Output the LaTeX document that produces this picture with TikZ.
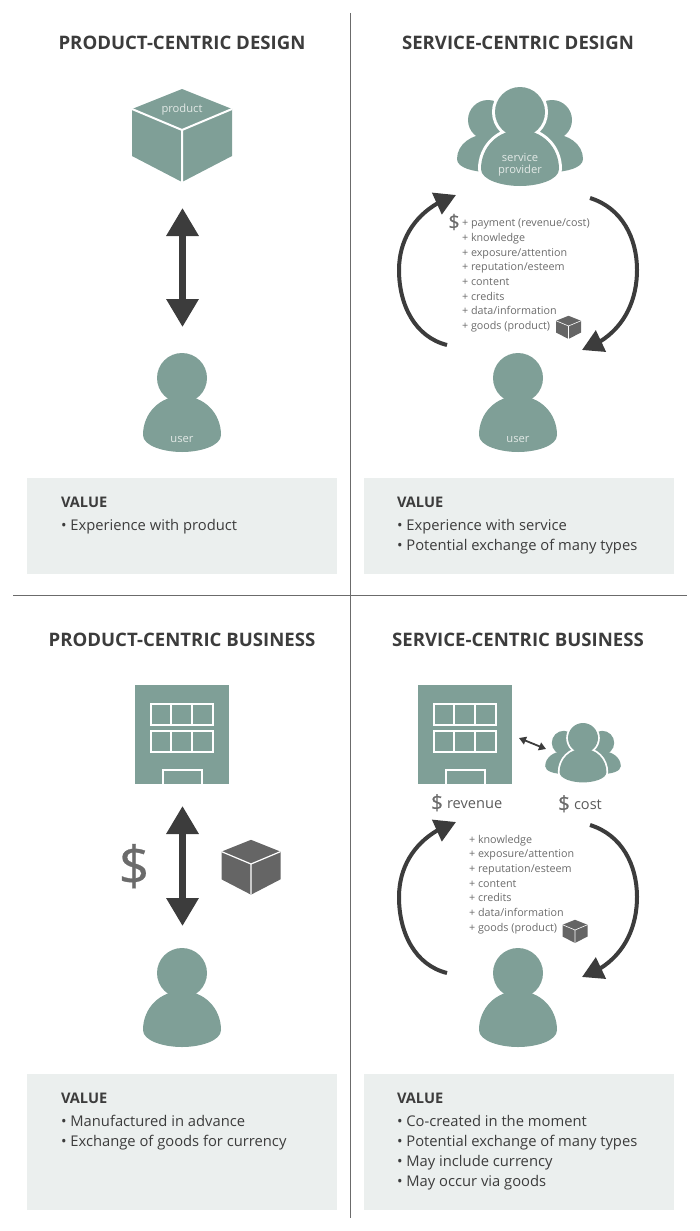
\documentclass[tikz,border=0pt]{standalone}
\usepackage{fontspec}
\setmainfont{Open Sans}
\newfontfamily\semifont[FakeBold=0.5]{Open Sans}
\usetikzlibrary{arrows.meta,bending}
\definecolor{sage}{HTML}{7F9F97}
\definecolor{boxgray}{HTML}{656565}
\definecolor{panel}{HTML}{EBEFEE}
\definecolor{ink}{HTML}{3C3C3C}
\definecolor{soft}{HTML}{6B6B6B}
\definecolor{pale}{HTML}{E2E9E6}
\newcommand{\plusitem}[1]{\makebox[9pt][l]{+}#1}
\tikzset{
  nodes={inner sep=0pt, outer sep=0pt},
  title/.style={anchor=base, text=ink, font=\fontsize{18.6}{22}\selectfont\bfseries},
  valuehead/.style={anchor=base west, text=ink, font=\fontsize{14.6}{18}\selectfont\bfseries},
  valueline/.style={anchor=base west, text=ink, font=\fontsize{14.75}{18}\selectfont},
  listline/.style={anchor=base west, text=soft, font=\fontsize{10.75}{14}\selectfont},
  iconlabel/.style={anchor=base, text=pale, font=\fontsize{11.2}{14}\selectfont},
  money/.style={anchor=base, text=soft, font=\fontsize{#1}{#1}\selectfont\semifont},
  moneytext/.style={anchor=base west, text=soft!85!black, font=\fontsize{14.6}{18}\selectfont},
  bigarrow/.style={draw=ink, line width=6.5pt, {Triangle[length=28pt,width=31pt]}-{Triangle[length=28pt,width=31pt]}},
  looparrow/.style={draw=ink, line width=4pt, -{Triangle[length=21pt,width=23pt,flex=1]}},
  pics/person/.style={code={
    \fill[sage] (0,0) circle (25);
    \fill[sage] (-39,57) .. controls (-39,35) and (-22,18) .. (0,18) .. controls (22,18) and (39,35) .. (39,57)
      .. controls (39,68) and (18,74) .. (0,74) .. controls (-18,74) and (-39,68) .. (-39,57) -- cycle;
  }},
  pics/crowd/.style={code={
    \foreach \side in {-1,1} {
      \fill[sage] (\side*32,8) circle (20);
      \fill[sage] (\side*63,47) .. controls (\side*63,32) and (\side*48,22) .. (\side*32,22)
        .. controls (\side*16,22) and (\side*1,32) .. (\side*1,47)
        .. controls (\side*1,56) and (\side*20,60) .. (\side*32,60) .. controls (\side*46,60) and (\side*63,56) .. (\side*63,47) -- cycle;
    }
    \draw[white] (0,0) circle (25);
    \draw[white] (-39,57) .. controls (-39,35) and (-22,18) .. (0,18) .. controls (22,18) and (39,35) .. (39,57)
      .. controls (39,68) and (18,74) .. (0,74) .. controls (-18,74) and (-39,68) .. (-39,57) -- cycle;
    \fill[sage] (0,0) circle (25);
    \fill[sage] (-39,57) .. controls (-39,35) and (-22,18) .. (0,18) .. controls (22,18) and (39,35) .. (39,57)
      .. controls (39,68) and (18,74) .. (0,74) .. controls (-18,74) and (-39,68) .. (-39,57) -- cycle;
  }},
  pics/cube/.style={code={
    \fill[#1] (0,-41) -- (50,-21) -- (50,26) -- (0,52) -- (-50,26) -- (-50,-21) -- cycle;
    \draw[white] (-50,-21) -- (0,0) -- (50,-21) (0,0) -- (0,52);
  }},
  pics/building/.style={code={
    \fill[sage] (0,0) rectangle (94,99);
    \draw[white, line width=1.8pt] (16,19) rectangle (78,40) (16,46) rectangle (78,67)
      (36,19) -- (36,40) (57,19) -- (57,40) (36,46) -- (36,67) (57,46) -- (57,67)
      (28,99) -- (28,85) -- (67,85) -- (67,99);
  }}
}
\begin{document}
\begin{tikzpicture}[x=1pt, y=-1pt]
\useasboundingbox (0,0) rectangle (700,1231);

\coordinate (midtop) at (350,13);
\coordinate (midbot) at (350,1218);
\coordinate (midleft) at (13,595);
\coordinate (midright) at (687,595);
\draw[soft, line width=.9pt] (midtop) -- (midbot) (midleft) -- (midright);

\node[title] (titleA) at (182,50) {PRODUCT-CENTRIC DESIGN};
\node[title] (titleB) at (518,50) {SERVICE-CENTRIC DESIGN};
\node[title] (titleC) at (182,646) {PRODUCT-CENTRIC BUSINESS};
\node[title] (titleD) at (518,646) {SERVICE-CENTRIC BUSINESS};

\fill[panel] (27,478) rectangle (337,574);
\fill[panel] (364,478) rectangle (674,574);
\fill[panel] (27,1074) rectangle (337,1210);
\fill[panel] (364,1074) rectangle (674,1210);

\node[valuehead] (valueA) at (61,507) {VALUE};
\node[valueline] (lineA) at (61,530) {• Experience with product};
\node[valuehead] (valueB) at (397,507) {VALUE};
\foreach \txt [count=\n] in {Experience with service, Potential exchange of many types}
  \node[valueline] (lineB\n) at (397,{530+20*(\n-1)}) {• \txt};
\node[valuehead] (valueC) at (61,1103) {VALUE};
\foreach \txt [count=\n] in {Manufactured in advance, Exchange of goods for currency}
  \node[valueline] (lineC\n) at (61,{1126+20*(\n-1)}) {• \txt};
\node[valuehead] (valueD) at (397,1103) {VALUE};
\foreach \txt [count=\n] in {Co-created in the moment, Potential exchange of many types, May include currency, May occur via goods}
  \node[valueline] (lineD\n) at (397,{1126+20*(\n-1)}) {• \txt};

% product design
\pic[line width=2pt] at (182,130) {cube=sage};
\node[iconlabel] (productA) at (182,112) {product};
\coordinate (cubeA) at (182.5,208);
\coordinate (userA) at (182.5,327);
\draw[bigarrow] (cubeA) -- (userA);
\pic at (182,378) {person};
\node[iconlabel] (labelA) at (182,442) {user};

% service design
\pic[line width=6pt] at (520,112) {crowd};
\node[iconlabel] (serviceB) at (520,161) {service};
\node[iconlabel] (providerB) at (520,173) {provider};
\coordinate (loopA) at (447,345);
\coordinate (loopB) at (456,195);
\coordinate (loopC) at (590,198);
\coordinate (loopD) at (582,350);
\draw[looparrow] (loopA) .. controls (415,337) and (399,305) .. (399,270) .. controls (399,235) and (420,207) .. (loopB);
\draw[looparrow] (loopC) .. controls (622,208) and (637,238) .. (637,270) .. controls (637,305) and (620,337) .. (loopD);
\node[money=20] (dollarB) at (454,229) {\$};
\foreach \txt [count=\n] in {payment (revenue/cost), knowledge, exposure/attention, reputation/esteem, content, credits, data/information, goods (product)}
  \node[listline] (itemB\n) at (462,{226.7+14.7*(\n-1)}) {\plusitem{\txt}};
\pic[line width=.6pt, scale=.25] at (568.5,326) {cube=boxgray};
\pic at (518,378) {person};
\node[iconlabel] (labelB) at (518,442) {user};

% product business
\pic at (135,685) {building};
\coordinate (buildC) at (182.5,806);
\coordinate (userC) at (182.5,926);
\draw[bigarrow] (buildC) -- (userC);
\node[money=54] (dollarC) at (134,885) {\$};
\pic[line width=1.2pt, scale=.59] at (251,864) {cube=boxgray};
\pic at (182,973) {person};

% service business
\pic at (418,685) {building};
\pic[line width=3.6pt, scale=.6] at (583,738) {crowd};
\coordinate (buildD) at (519,738);
\coordinate (teamD) at (546,749);
\draw[draw=ink, line width=1.8pt, {Triangle[length=7pt,width=8pt]}-{Triangle[length=7pt,width=8pt]}] (buildD) -- (teamD);
\node[money=21] (dollarD) at (437,810) {\$};
\node[moneytext] (revenueD) at (447,808) {revenue};
\node[money=21] (dollarE) at (564,811) {\$};
\node[moneytext] (costD) at (574,809) {cost};
\coordinate (loopE) at (447,973);
\coordinate (loopF) at (456,822);
\coordinate (loopG) at (590,825);
\coordinate (loopH) at (582,977);
\draw[looparrow] (loopE) .. controls (415,965) and (399,933) .. (399,897) .. controls (399,862) and (420,834) .. (loopF);
\draw[looparrow] (loopG) .. controls (622,835) and (637,865) .. (637,897) .. controls (637,932) and (620,964) .. (loopH);
\foreach \txt [count=\n] in {knowledge, exposure/attention, reputation/esteem, content, credits, data/information, goods (product)}
  \node[listline] (itemD\n) at (469,{843+14.7*(\n-1)}) {\plusitem{\txt}};
\pic[line width=.6pt, scale=.25] at (575,930) {cube=boxgray};
\pic at (518,973) {person};
\end{tikzpicture}
\end{document}
